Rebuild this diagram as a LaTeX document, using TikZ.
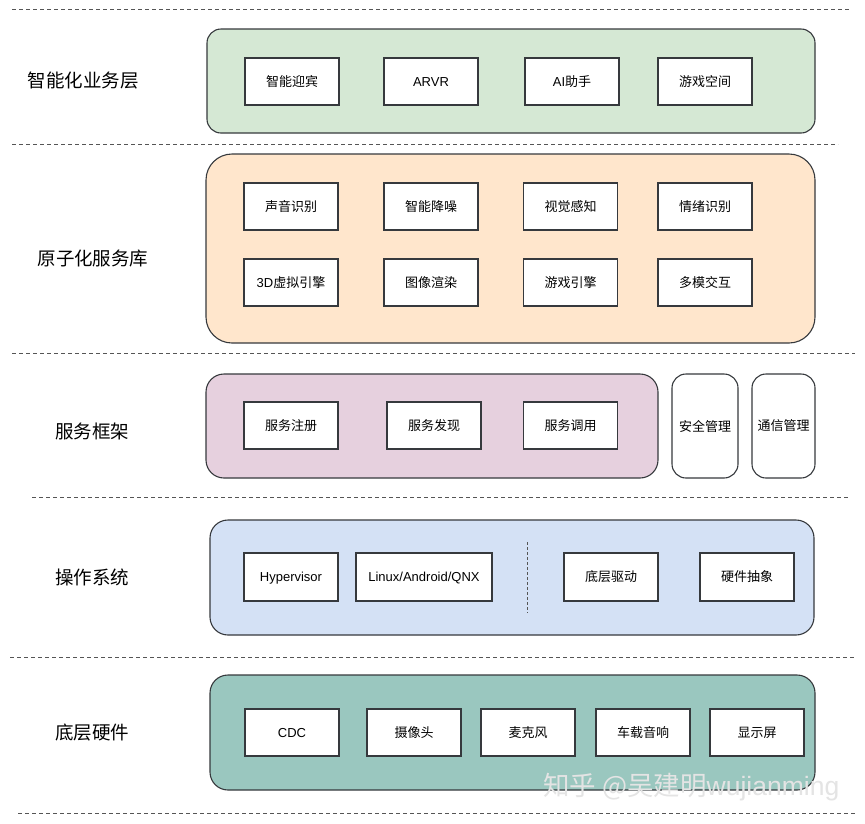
\documentclass[tikz,border=0pt]{standalone}
\usepackage{fontspec}
\setmainfont{Noto Sans CJK SC}
\newfontfamily\latf{Liberation Sans}
\definecolor{strokec}{HTML}{36393D}
\definecolor{greenc}{HTML}{D5E8D4}
\definecolor{orangec}{HTML}{FFE6CC}
\definecolor{purplec}{HTML}{E6D0DE}
\definecolor{bluec}{HTML}{D4E1F5}
\definecolor{tealc}{HTML}{9AC7BF}
\definecolor{sepc}{HTML}{555555}
\definecolor{wmc}{HTML}{E4E4E4}
\begin{document}
\begin{tikzpicture}[x=1pt,y=-1pt,
  layerbox/.style={draw=strokec, line width=1.1pt, inner sep=0pt},
  itembox/.style={draw=strokec, fill=white, line width=1.1pt, inner sep=0pt,
    minimum width=94pt, minimum height=47pt, text height=11pt, text depth=2pt,
    font=\fontsize{13}{15}\selectfont},
  sidebox/.style={draw=strokec, fill=white, line width=1.1pt, inner sep=0pt,
    rounded corners=14pt, minimum height=104pt, font=\fontsize{13}{15}\selectfont},
  layerlabel/.style={font=\fontsize{18.5}{22}\selectfont},
  sepline/.style={draw=sepc, line width=0.9pt, dash pattern=on 4pt off 3pt},
  innersep/.style={draw=sepc, line width=1pt, dash pattern=on 2.5pt off 2.5pt}]
\useasboundingbox (0,0) rectangle (865,823);
\fill[white] (0,0) rectangle (865,823);

% separator lines
\coordinate (s1a) at (12,9);   \coordinate (s1b) at (850,9);
\coordinate (s2a) at (12,144); \coordinate (s2b) at (838,144);
\coordinate (s3a) at (12,353); \coordinate (s3b) at (855,353);
\coordinate (s4a) at (32,497); \coordinate (s4b) at (850,497);
\coordinate (s5a) at (10,657); \coordinate (s5b) at (855,657);
\coordinate (s6a) at (18,813); \coordinate (s6b) at (855,813);
\draw[sepline] (s1a) -- (s1b);
\draw[sepline] (s2a) -- (s2b);
\draw[sepline] (s3a) -- (s3b);
\draw[sepline] (s4a) -- (s4b);
\draw[sepline] (s5a) -- (s5b);
\draw[sepline] (s6a) -- (s6b);

% layer labels
\node[layerlabel] (t1) at (83,81) {智能化业务层};
\node[layerlabel] (t2) at (93,258) {原子化服务库};
\node[layerlabel] (t3) at (92,431) {服务框架};
\node[layerlabel] (t4) at (92,577) {操作系统};
\node[layerlabel] (t5) at (92,733) {底层硬件};

% layer containers
\node[layerbox, fill=greenc, rounded corners=14pt, minimum width=608pt, minimum height=104pt] (L1) at (511,81) {};
\node[layerbox, fill=orangec, rounded corners=26pt, minimum width=609pt, minimum height=189pt] (L2) at (510.5,248.5) {};
\node[layerbox, fill=purplec, rounded corners=18pt, minimum width=452pt, minimum height=104pt] (L3) at (432,426) {};
\node[layerbox, fill=bluec, rounded corners=18pt, minimum width=604pt, minimum height=115pt] (L4) at (512,577.5) {};
\node[layerbox, fill=tealc, rounded corners=18pt, minimum width=605pt, minimum height=115pt] (L5) at (512.5,732.5) {};

% layer 1
\node[itembox] (a1) at (292,81.5) {智能迎宾};
\node[itembox] (a2) at (431,81.5) {{\latf ARVR}};
\node[itembox] (a3) at (572,81.5) {{\latf AI}助手};
\node[itembox] (a4) at (705,81.5) {游戏空间};

% layer 2
\node[itembox] (b1) at (291,206.5) {声音识别};
\node[itembox] (b2) at (431,206.5) {智能降噪};
\node[itembox] (b3) at (570.5,206.5) {视觉感知};
\node[itembox] (b4) at (705,206.5) {情绪识别};
\node[itembox] (b5) at (291,282.5) {{\latf 3D}虚拟引擎};
\node[itembox] (b6) at (431,282.5) {图像渲染};
\node[itembox] (b7) at (570.5,282.5) {游戏引擎};
\node[itembox] (b8) at (705,282.5) {多模交互};

% layer 3
\node[itembox] (c1) at (291,425.5) {服务注册};
\node[itembox] (c2) at (434,425.5) {服务发现};
\node[itembox] (c3) at (570.5,425.5) {服务调用};
\node[sidebox, minimum width=66pt] (c4) at (705,426) {安全管理};
\node[sidebox, minimum width=63pt] (c5) at (783.5,426) {通信管理};

% layer 4
\node[itembox, minimum height=48pt] (d1) at (291,577) {{\latf Hypervisor}};
\node[itembox, minimum height=48pt, minimum width=136pt] (d2) at (424,577) {{\latf Linux/Android/QNX}};
\node[itembox, minimum height=48pt] (d3) at (611,577) {底层驱动};
\node[itembox, minimum height=48pt] (d4) at (747,577) {硬件抽象};
\coordinate (v1) at (527,542);
\coordinate (v2) at (527,613);
\draw[innersep] (v1) -- (v2);

% layer 5
\node[itembox] (e1) at (292,732.5) {{\latf CDC}};
\node[itembox] (e2) at (414,732.5) {摄像头};
\node[itembox] (e3) at (528,732.5) {麦克风};
\node[itembox] (e4) at (643,732.5) {车载音响};
\node[itembox] (e5) at (757,732.5) {显示屏};

% watermark
\node[anchor=west, text=wmc, font=\fontsize{26.5}{30}\selectfont, inner sep=0pt] (wm) at (543,787) {知乎 @吴建明{\latf wujianming}};
\end{tikzpicture}
\end{document}
